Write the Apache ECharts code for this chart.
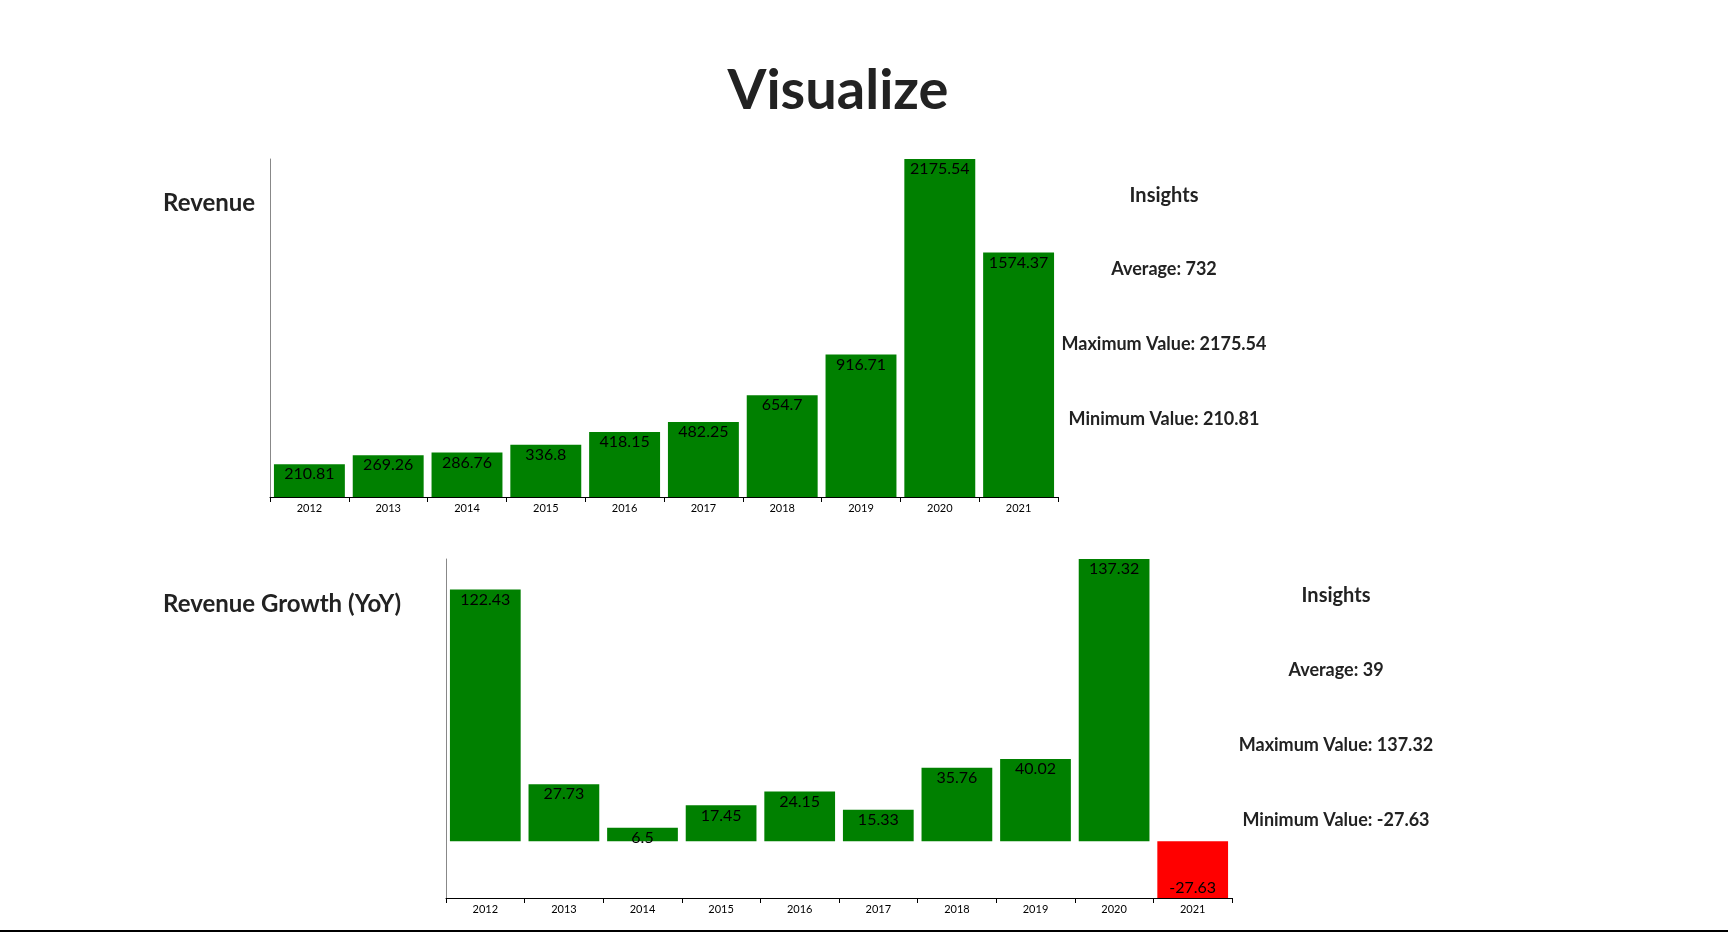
<!DOCTYPE html>
<html><head><meta charset="utf-8">
<script src="https://cdn.jsdelivr.net/npm/echarts@6/dist/echarts.min.js"></script>
<style>html,body{margin:0;padding:0;background:#fff}#c{width:1728px;height:933px}</style>
</head><body><div id="c"></div>
<script>
const years = ['2012','2013','2014','2015','2016','2017','2018','2019','2020','2021'];
const revenue = [210.81,269.26,286.76,336.8,418.15,482.25,654.7,916.71,2175.54,1574.37];
const growth = [122.43,27.73,6.5,17.45,24.15,15.33,35.76,40.02,137.32,-27.63];
const revInsights = ['Insights','Average: 732','Maximum Value: 2175.54','Minimum Value: 210.81'];
const grInsights = ['Insights','Average: 39','Maximum Value: 137.32','Minimum Value: -27.63'];
const F = 'Lato, "Noto Sans", sans-serif';
const chart = echarts.init(document.getElementById('c'));
function xAx(i){return {type:'category',gridIndex:i,data:years,boundaryGap:true,
  axisLine:{onZero:false,lineStyle:{color:'#000'}},axisTick:{show:true,alignWithLabel:false,lineStyle:{color:'#000'}},
  axisLabel:{fontSize:11,color:'#000',fontFamily:F,margin:6}};}
function yAx(i,min,max){return {type:'value',gridIndex:i,min:min,max:max,splitLine:{show:false},
  axisLine:{show:true,lineStyle:{color:'#888'}},axisTick:{show:false},axisLabel:{show:false}};}
const txt=(x,y,t,size,align)=>({type:'text',left:undefined,x:x,y:y,style:{text:t,font:`bold ${size}px ${F}`,fill:'#222',textAlign:align||'left',textVerticalAlign:'middle'}});
const g=[txt(838,91,'Visualize',56,'center'),txt(163,203,'Revenue',24),txt(163,604,'Revenue Growth (YoY)',24)];
[196,269,344,419].forEach((y,i)=>g.push(txt(1164,y,revInsights[i],i?18:20,'center')));
[596,670,745,820].forEach((y,i)=>g.push(txt(1336,y,grInsights[i],i?18:20,'center')));
g.push({type:'line',shape:{x1:0,y1:931,x2:1728,y2:931},style:{stroke:'#000',lineWidth:2}});
chart.setOption({
  animation:false,
  grid:[{left:270,width:788,top:159,height:338},{left:446,width:786,top:559,height:339}],
  xAxis:[xAx(0),xAx(1)],
  yAxis:[yAx(0,0,2175.54),yAx(1,-27.63,137.32)],
  series:[
    {type:'bar',xAxisIndex:0,yAxisIndex:0,data:revenue,barCategoryGap:'10%',itemStyle:{color:'#008000'},
     label:{show:true,position:'insideTop',color:'#000',fontSize:16,fontFamily:F,distance:2}},
    {type:'bar',xAxisIndex:1,yAxisIndex:1,barCategoryGap:'10%',
     data:growth.map(v=>({value:v,itemStyle:{color:v<0?'#ff0000':'#008000'},label:v<0?{position:'insideBottom'}:{}})),
     label:{show:true,position:'insideTop',color:'#000',fontSize:16,fontFamily:F,distance:2}}
  ],
  graphic:g
});
</script></body></html>
